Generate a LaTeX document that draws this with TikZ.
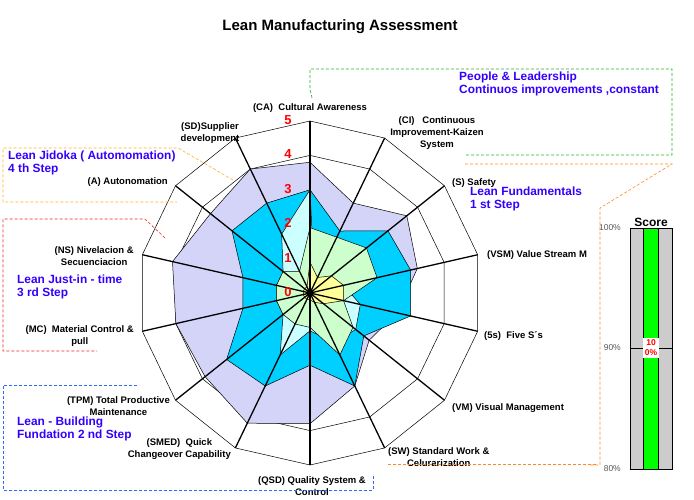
\documentclass[tikz,border=0pt]{standalone}
\usepackage{fontspec}
\setmainfont{Liberation Sans}
\begin{document}
\begin{tikzpicture}[x=1pt,y=1pt,
 lbl/.style={font=\bfseries\fontsize{9.5}{12}\selectfont, inner sep=0pt, align=center},
 blu/.style={font=\bfseries\fontsize{11.9}{13.5}\selectfont, text=bluetxt, inner sep=0pt, align=left, anchor=west},
 num/.style={font=\bfseries\fontsize{13}{13}\selectfont, text=red, inner sep=0pt},
 ser/.style={draw=black, line width=0.5pt},
 dsh/.style={dashed, dash pattern=on 3pt off 2pt, line width=0.6pt}]
\definecolor{bluetxt}{HTML}{3300FF}
\definecolor{cpur}{HTML}{D4D4F8}
\definecolor{ccy}{HTML}{00D0FF}
\definecolor{clc}{HTML}{CCFFFF}
\definecolor{cgr}{HTML}{CCFFCC}
\definecolor{cye}{HTML}{FFFF99}
\definecolor{dor}{HTML}{FF8C1A}
\definecolor{dye}{HTML}{FFB020}
\definecolor{dgr}{HTML}{33AA33}
\definecolor{dre}{HTML}{EE2222}
\definecolor{dbl}{HTML}{3366FF}
\useasboundingbox (0,0) rectangle (694,499);
\node[font=\bfseries\fontsize{15}{15}\selectfont] (title) at (340,472) {Lean Manufacturing Assessment};
\begin{scope}[shift={(310,206)}]
 \coordinate (C) at (0,0);
 \foreach \r in {137.6,172}{
  \draw[line width=0.5pt] (90:\r) \foreach \i in {1,...,13}{ -- ({90-\i*360/14}:\r)} -- cycle;}
 \foreach \col/\vals in {cpur/{3.8,2.9,3.6,3.2,2.6,2.2,3.0,3.8,4.2,3.9,4.0,4.1,3.7,4.0},
   ccy/{3.0,2.0,2.9,3.0,3.0,2.0,3.0,2.1,3.0,3.1,2.0,2.0,2.9,2.9},
   clc/{3.0,0.3,1.0,1.0,1.5,1.7,1.6,1.1,2.0,1.0,1.0,1.0,1.0,1.9},
   cgr/{1.9,1.8,2.1,2.0,1.0,1.6,2.0,1.0,1.0,1.0,1.0,1.0,1.0,0.7},
   cye/{0.9,0.5,0.8,1.0,1.0,0.5,0.3,0.2,0.2,0.2,0.2,0.2,0.2,0.2}}{
  \filldraw[ser, fill=\col] \foreach \v [count=\i from 0] in \vals { \ifnum\i=0 ({90}:{\v*34.4}) \else -- ({90-\i*360/14}:{\v*34.4}) \fi } -- cycle;}
 \foreach \i in {0,...,13}{ \draw[line width=1.3pt] (C) -- ({90-\i*360/14}:172);}
 \fill (C) circle (3.5);
 \foreach \k in {0,...,5}{ \node[num] (n\k) at (-22,{\k*34.4+1}) {\k};}
\end{scope}
% axis labels
\node[lbl] (la) at (310,391) {(CA)\ \ Cultural Awareness};
\node[lbl] (lb) at (437,366) {(CI)\ \ \ Continuous\\Improvement-Kaizen\\System};
\node[lbl, anchor=west] (lc) at (452,316) {(S) Safety};
\node[lbl, anchor=west] (ld) at (487,244) {(VSM) Value Stream M};
\node[lbl, anchor=west] (le) at (484,163) {(5s)\ \ Five S´s};
\node[lbl, anchor=west] (lf) at (452,91) {(VM) Visual Management};
\node[lbl, anchor=north west, align=center] (lg) at (388,52) {(SW) Standard Work \&\\Celurarization};
\node[lbl, anchor=north] (lh) at (312,23) {(QSD) Quality System \&\\Control};
\node[lbl, anchor=east, align=center] (li) at (231,50) {(SMED)\ \ Quick\\Changeover Capability};
\node[lbl, anchor=north east, align=center] (lj) at (170,103) {(TPM) Total Productive\\Maintenance};
\node[lbl, anchor=east, align=center] (lk) at (134,163) {(MC)\ \ Material Control \&\\pull};
\node[lbl, anchor=east, align=center] (ll) at (134,243) {(NS) Nivelacion \&\\Secuenciacion};
\node[lbl, anchor=east] (lm) at (168,317) {(A) Autonomation};
\node[lbl] (ln) at (210,366) {(SD)Supplier\\development};
% blue texts
\node[blu] (t1) at (459,415) {People \& Leadership\\Continuos improvements ,constant};
\node[blu] (t2) at (470,300) {Lean Fundamentals\\1 st Step};
\node[blu] (t3) at (8,336) {Lean Jidoka ( Automomation)\\4 th Step};
\node[blu] (t4) at (17,212) {Lean Just-in - time\\3 rd Step};
\node[blu] (t5) at (17,70) {Lean - Building\\Fundation 2 nd Step};
% dashed boxes
\draw[dsh, dgr] (312,401) -- (310,410) -- (310,430) -- (672,430) -- (672,344) -- (465,344);
\draw[dsh, dor] (465,335) -- (672,335) -- (600,291) -- (600,34) -- (590,34);
\draw[dsh, dor] (388,35) -- (597,35);
\draw[dsh, dye] (233,319) -- (178,351) -- (3,351) -- (3,297) -- (177,297);
\draw[dsh, dre] (165,261) -- (145,280) -- (3,280) -- (3,148) -- (97,148);
\draw[dsh, dbl] (137,114) -- (3,114) -- (3,9) -- (373,9) -- (373,23);
% score bar
\node[font=\bfseries\fontsize{12}{12}\selectfont, inner sep=0pt] (sc) at (651,277) {Score};
\filldraw[fill=gray!40, draw=black, line width=0.6pt] (630,30) rectangle (672,271);
\filldraw[fill=green, draw=black, line width=0.6pt] (643,30) rectangle (658,271);
\draw[line width=0.6pt] (630,151) -- (672,151);
\foreach \p/\yy in {100/271,90/151,80/30}{
 \node[anchor=east, text=gray!70!black, font=\fontsize{8.5}{9}\selectfont, inner sep=0pt] (p\p) at (621,\yy) {\p\%};}
\node[fill=white, text=red, font=\bfseries\fontsize{8.5}{10}\selectfont, align=center, inner sep=1.5pt] (sv) at (651,151) {10\\0\%};
\end{tikzpicture}
\end{document}
